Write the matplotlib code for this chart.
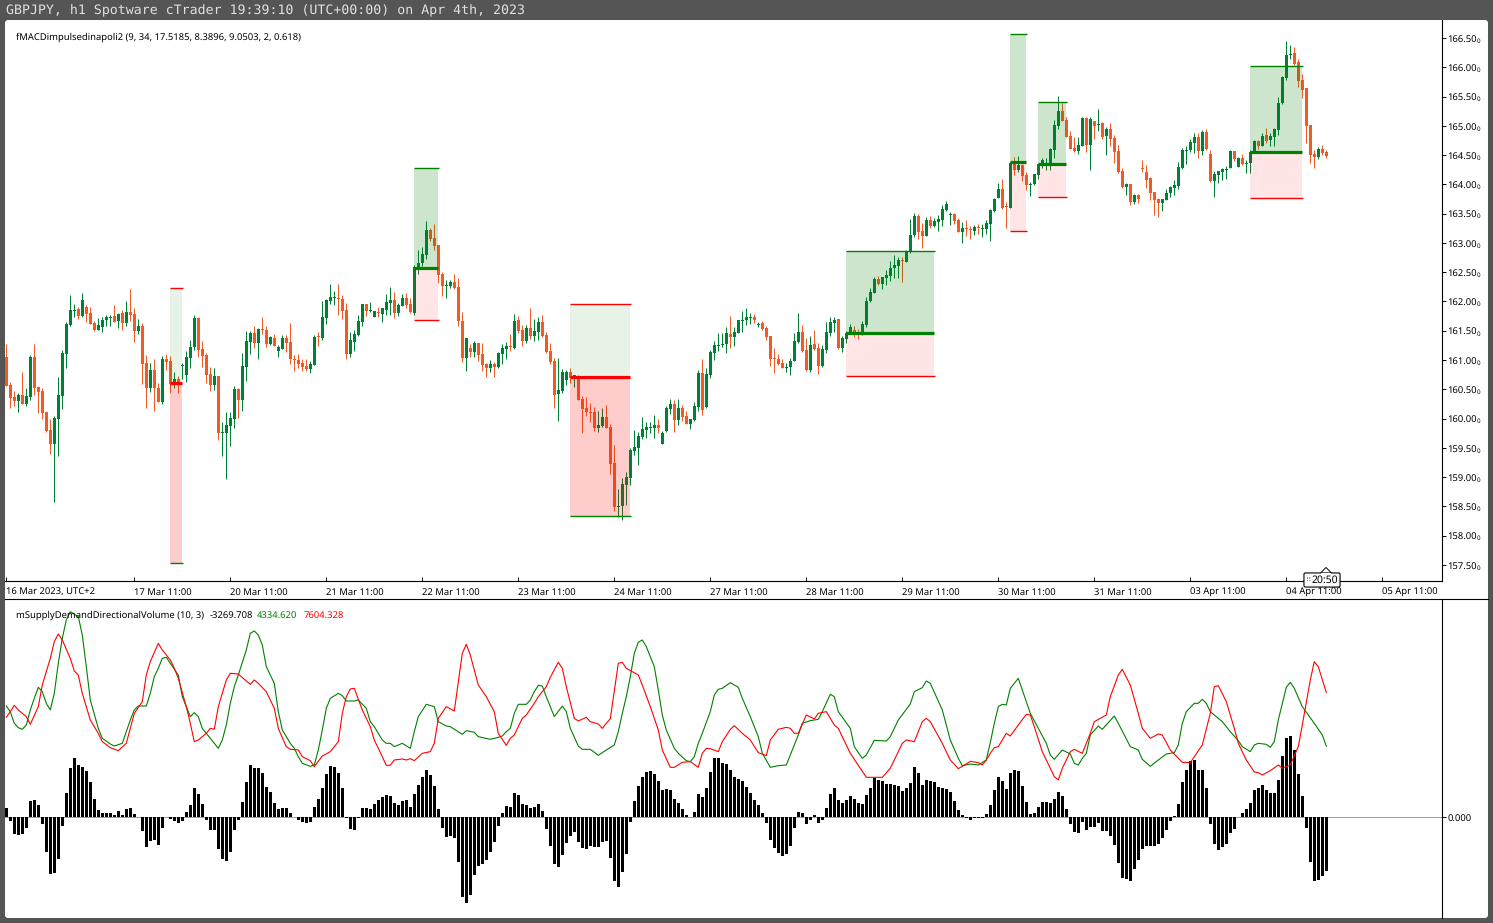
import matplotlib
matplotlib.use('Agg')
import matplotlib.pyplot as plt
import numpy as np
from matplotlib.patches import FancyBboxPatch, Polygon, Rectangle

matplotlib.rcParams['text.hinting'] = 'none'

W, H = 1493, 923

# candles, GBPJPY h1
highs = [161.27,160.63,160.47,160.44,160.80,160.52,161.09,161.27,160.56,160.52,
160.11,159.99,160.05,160.71,161.17,161.65,162.11,161.96,161.91,162.15,
161.94,161.91,161.67,161.72,161.74,161.77,161.77,161.94,161.80,161.86,
162.01,162.21,161.89,161.70,161.63,161.09,160.95,161.02,160.61,161.07,
161.10,161.07,160.80,160.73,160.95,161.16,161.34,161.77,161.74,161.33,
161.12,160.88,160.87,160.73,159.94,160.11,160.11,160.56,160.52,161.12,
161.50,161.50,161.58,161.55,161.74,161.58,161.41,161.45,161.26,161.43,
161.43,161.63,161.09,161.10,161.02,161.02,160.98,161.43,161.48,162.01,
162.04,162.30,162.18,162.30,162.11,161.97,161.48,161.51,161.77,161.96,
161.96,161.99,161.84,161.91,161.89,162.13,162.25,162.16,161.97,162.13,
162.15,162.06,162.62,162.88,162.93,163.38,163.26,163.32,162.97,162.50,
162.37,162.37,162.47,162.40,161.82,161.38,161.28,161.33,161.29,161.29,
160.95,161.00,160.97,161.14,161.28,161.31,161.45,161.79,161.75,161.60,
161.60,161.89,161.70,161.74,161.77,161.48,161.29,161.04,161.04,160.85,
160.83,160.87,160.75,160.75,160.39,160.37,160.27,160.20,160.13,160.18,
160.23,159.91,159.55,158.80,158.99,159.09,159.50,159.81,159.77,160.03,
159.94,159.94,160.06,159.99,159.79,160.22,160.34,160.32,160.34,160.23,
160.13,159.99,160.28,160.83,161.02,160.87,161.17,161.33,161.46,161.46,
161.57,161.75,161.57,161.69,161.84,161.89,161.80,161.79,161.65,161.67,
161.58,161.41,161.21,161.10,161.02,160.95,161.04,161.46,161.80,161.60,
161.38,161.41,161.51,161.29,161.26,161.65,161.74,161.74,161.70,161.41,
161.50,161.62,161.58,161.53,161.67,162.08,162.23,162.42,162.44,162.42,
162.54,162.69,162.80,162.76,162.76,162.88,163.41,163.51,163.49,163.34,
163.44,163.46,163.43,163.48,163.65,163.72,163.53,163.51,163.43,163.36,
163.39,163.29,163.31,163.32,163.32,163.39,163.58,163.76,164.02,164.09,
163.70,164.38,164.47,164.49,164.35,164.21,164.04,164.18,164.35,164.45,
164.45,164.62,165.10,165.51,165.39,165.15,164.91,164.81,164.81,165.15,
165.15,165.15,165.08,165.29,165.07,164.98,165.05,164.84,164.67,164.28,
164.02,164.01,163.84,163.84,164.42,164.33,164.13,163.87,163.77,163.75,
163.92,163.97,164.07,164.38,164.62,164.66,164.78,164.88,164.88,164.93,
164.95,164.59,164.23,164.23,164.28,164.31,164.59,164.57,164.47,164.52,
164.42,164.59,164.76,164.76,164.88,164.96,164.88,164.96,165.49,165.85,
166.45,166.38,166.35,166.14,165.89,165.65,165.01,164.59,164.64,164.67,
164.59]
body_top = [161.05,160.57,160.37,160.40,160.40,160.39,161.05,161.05,160.54,160.47,
160.11,159.81,160.01,160.40,161.12,161.62,161.86,161.86,161.87,162.03,
161.91,161.80,161.63,161.60,161.68,161.74,161.74,161.75,161.79,161.80,
161.82,161.82,161.79,161.58,161.58,160.95,160.83,160.83,160.52,161.02,
161.02,160.98,160.68,160.68,160.92,161.05,161.22,161.72,161.72,161.19,
161.09,160.76,160.73,160.73,159.77,159.89,160.01,160.51,160.51,160.90,
161.33,161.46,161.46,161.53,161.53,161.51,161.39,161.38,161.22,161.38,
161.38,161.31,161.02,161.00,160.95,160.90,160.93,161.39,161.41,161.74,
162.03,162.08,162.08,162.06,162.04,161.86,161.34,161.45,161.67,161.96,
161.96,161.86,161.84,161.82,161.89,161.99,162.03,162.03,161.94,162.06,
162.06,161.96,162.59,162.66,162.81,163.22,163.22,163.09,162.97,162.47,
162.28,162.33,162.33,162.25,161.67,161.38,161.21,161.29,161.29,161.10,
160.93,160.93,160.93,161.12,161.21,161.24,161.24,161.67,161.68,161.51,
161.55,161.55,161.50,161.65,161.65,161.43,161.16,160.98,160.49,160.80,
160.80,160.80,160.75,160.73,160.34,160.18,160.11,160.11,159.89,160.03,
160.03,159.86,159.24,158.51,158.88,159.00,159.47,159.52,159.70,159.82,
159.86,159.86,159.89,159.89,159.76,160.18,160.25,160.25,160.18,160.18,
160.05,159.99,160.22,160.78,160.78,160.76,161.14,161.26,161.26,161.28,
161.46,161.45,161.48,161.69,161.69,161.74,161.74,161.74,161.62,161.63,
161.55,161.41,161.04,161.02,160.95,160.88,160.98,161.33,161.48,161.48,
161.17,161.26,161.28,161.21,161.19,161.48,161.65,161.69,161.70,161.38,
161.46,161.57,161.51,161.45,161.62,162.01,162.16,162.39,162.39,162.42,
162.45,162.57,162.62,162.71,162.71,162.86,163.14,163.46,163.46,163.20,
163.39,163.39,163.37,163.41,163.58,163.67,163.49,163.49,163.39,163.26,
163.26,163.24,163.27,163.27,163.26,163.34,163.56,163.75,163.92,163.92,
163.63,164.37,164.35,164.33,164.33,164.16,164.01,164.18,164.35,164.42,
164.35,164.60,165.01,165.25,165.25,165.10,164.83,164.62,164.67,165.13,
165.13,165.12,165.08,165.03,165.05,164.95,164.95,164.79,164.57,164.23,
164.01,164.01,163.82,163.82,164.28,164.21,164.11,163.87,163.75,163.75,
163.85,163.95,163.99,164.30,164.59,164.59,164.72,164.81,164.81,164.89,
164.89,164.52,164.18,164.23,164.26,164.26,164.57,164.57,164.45,164.45,
164.37,164.55,164.74,164.74,164.83,164.84,164.83,164.95,165.39,165.83,
166.21,166.23,166.24,166.09,165.78,165.65,165.01,164.52,164.60,164.60,
164.55]
body_bottom = [160.56,160.35,160.30,160.30,160.25,160.25,160.37,160.52,160.45,160.10,
159.79,159.57,159.57,159.99,160.39,161.10,161.60,161.84,161.75,161.75,
161.79,161.62,161.51,161.51,161.57,161.68,161.72,161.65,161.67,161.63,
161.63,161.77,161.50,161.50,160.93,160.52,160.52,160.52,160.28,160.28,
160.97,160.59,160.59,160.57,160.90,160.75,161.04,161.22,161.17,161.07,
160.75,160.57,160.57,159.76,159.76,159.76,159.87,159.99,160.32,160.32,
160.88,161.31,161.29,161.29,161.51,161.27,161.27,161.24,161.16,161.19,
161.29,161.02,161.00,160.93,160.88,160.85,160.85,160.92,161.39,161.38,
161.72,162.01,162.06,162.04,161.84,161.10,161.10,161.31,161.43,161.65,
161.84,161.84,161.74,161.80,161.79,161.86,161.97,161.80,161.80,161.92,
161.94,161.82,161.80,162.56,162.66,162.80,163.07,162.95,162.45,162.27,
162.27,162.27,162.23,161.67,161.04,161.04,161.14,161.14,161.09,160.92,
160.87,160.87,160.88,160.88,161.10,161.19,161.22,161.21,161.50,161.33,
161.33,161.41,161.41,161.48,161.41,161.14,160.97,160.40,160.42,160.47,
160.66,160.69,160.69,160.32,160.17,160.11,160.10,159.84,159.84,159.87,
159.84,159.23,158.49,158.49,158.51,158.87,158.99,159.45,159.50,159.69,
159.81,159.84,159.84,159.84,159.57,159.79,160.17,159.98,159.98,160.03,
159.91,159.91,159.98,160.20,160.15,160.20,160.75,161.12,161.24,161.26,
161.28,161.39,161.39,161.46,161.67,161.69,161.72,161.69,161.60,161.53,
161.39,161.02,161.02,160.93,160.87,160.87,160.88,160.98,161.31,161.16,
160.83,160.83,161.19,160.90,160.90,161.17,161.46,161.63,161.21,161.21,
161.36,161.45,161.43,161.43,161.43,161.60,162.01,162.15,162.30,162.30,
162.40,162.44,162.57,162.61,162.69,162.68,162.85,163.14,163.19,163.12,
163.12,163.29,163.29,163.36,163.39,163.56,163.48,163.37,163.19,163.19,
163.24,163.22,163.20,163.26,163.24,163.24,163.32,163.55,163.77,163.60,
163.61,163.60,164.25,164.25,164.14,163.99,163.99,164.01,164.16,164.33,
164.33,164.35,164.59,165.00,165.08,164.81,164.60,164.57,164.57,164.66,
164.67,164.67,165.00,165.01,164.81,164.83,164.78,164.55,164.21,163.96,
163.96,163.70,163.70,163.75,164.26,164.07,163.85,163.73,163.68,163.68,
163.73,163.85,163.94,163.97,164.28,164.57,164.59,164.71,164.57,164.57,
164.60,164.06,164.06,164.16,164.21,164.25,164.28,164.43,164.30,164.35,
164.35,164.37,164.55,164.66,164.66,164.74,164.76,164.81,164.93,165.39,
165.82,166.21,166.06,165.77,165.61,165.00,164.50,164.47,164.47,164.54,
164.48]
lows = [160.55,160.18,160.22,160.11,160.25,160.22,160.32,160.40,160.10,159.99,
159.77,159.40,158.57,159.36,160.16,160.87,161.58,161.74,161.70,161.74,
161.65,161.62,161.50,161.51,161.48,161.58,161.58,161.65,161.55,161.51,
161.58,161.67,161.31,161.45,160.59,160.18,160.45,160.13,160.28,160.25,
160.83,160.44,160.52,160.44,160.68,160.63,160.87,161.17,161.05,160.88,
160.61,160.47,160.49,159.64,159.36,158.97,159.53,159.84,160.01,160.13,
160.64,161.10,161.21,161.02,161.45,161.22,161.26,161.24,161.05,161.19,
161.14,160.93,160.81,160.87,160.81,160.81,160.78,160.92,161.24,161.34,
161.62,161.96,161.94,161.77,161.70,161.02,161.05,161.16,161.41,161.58,
161.75,161.82,161.74,161.74,161.65,161.77,161.77,161.72,161.75,161.92,
161.89,161.80,161.77,162.47,162.61,162.73,163.03,162.88,162.32,162.09,
162.06,162.23,162.21,161.58,160.97,160.81,161.05,161.05,160.98,160.81,
160.71,160.80,160.71,160.87,160.93,161.02,161.16,161.19,161.46,161.24,
161.29,161.36,161.33,161.34,161.39,161.12,160.93,160.18,159.96,160.44,
160.57,160.61,160.54,160.32,159.76,160.05,159.94,159.79,159.77,159.86,
159.84,159.05,158.42,158.32,158.27,158.53,158.87,159.38,159.21,159.65,
159.67,159.76,159.67,159.76,159.57,159.77,160.08,159.77,159.89,159.96,
159.91,159.82,159.96,160.13,160.06,160.18,160.69,161.00,161.16,161.22,
161.12,161.21,161.24,161.46,161.48,161.60,161.62,161.63,161.57,161.51,
161.34,160.90,160.78,160.92,160.87,160.80,160.75,160.98,161.29,161.14,
160.81,160.80,161.17,160.76,160.88,161.12,161.41,161.48,161.19,161.14,
161.29,161.45,161.39,161.36,161.43,161.57,161.99,162.15,162.28,162.21,
162.28,162.35,162.40,162.40,162.33,162.68,162.83,163.10,163.07,162.91,
163.12,163.26,163.27,163.20,163.29,163.55,163.31,163.32,163.19,163.00,
163.12,163.07,163.14,163.15,163.10,163.15,163.03,163.53,163.77,163.58,
163.26,163.60,164.16,164.21,164.06,163.90,163.80,163.99,164.09,164.28,
164.25,164.25,164.45,164.95,165.08,164.81,164.60,164.55,164.52,164.66,
164.55,164.25,164.78,164.91,164.78,164.50,164.66,164.37,164.19,163.94,
163.82,163.65,163.66,163.68,164.21,163.94,163.73,163.48,163.44,163.55,
163.73,163.79,163.82,163.92,164.26,164.35,164.55,164.54,164.45,164.50,
164.59,164.04,163.79,164.02,164.07,164.09,164.28,164.40,164.30,164.33,
164.19,164.19,164.54,164.60,164.66,164.71,164.66,164.66,164.84,165.37,
165.78,166.14,166.04,165.66,165.48,164.71,164.37,164.28,164.43,164.50,
164.45]
directions = ("RRRGRGGRRR" "RRGGGGGGRG" "RRRGGGGRGR" "GRRGRRGRRG" "RRGRGGGGRR"
              "RRGRGGGGRG" "GGRGRRGRGG" "RRRRRRGGRG" "GGGRRRGGGG" "RGGRGGGRGG"
              "RRGGGGRRRR" "GGRRRGRGRR" "RGRGGGRGRR" "GRGGRRRRGG" "GRGRRRRRGG"
              "RRRGGGGGGG" "GGGRGGGRGR" "RGGGRGGGGG" "GRGGGGGRGR" "RRRRRGGGGR"
              "RGRRGGGGRG" "GGRRGGGGRG" "GGGGRGGGRR" "GRGGGGGRRG" "RRGRGGGGGR"
              "RGRGRRGGGG" "GGGGRRRRGG" "RGRGRGRRRR" "GRGRRRRRRG" "GGGGGGGGRG"
              "RRGGGGGRGR" "GGGRGRGGGG" "GGRRRRRRGR" "R")

# lower pane, one value per bar
hist = [568,-203,-1015,-1056,-1015,-650,1015,1056,751,-406,-2111,-3451,-3390,-2538,-528,1482,3004,3613,3187,3045,
2822,2152,1117,447,264,264,264,142,386,142,508,568,183,20,-832,-1807,-1441,-1380,-1685,-650,
41,-81,-223,-345,-223,325,751,1786,1421,812,-162,-751,-771,-1929,-2538,-2659,-2111,-771,-162,934,
2152,3187,3004,3004,2700,1847,1543,873,508,568,568,264,20,-162,-284,-325,-284,629,1117,1786,
2639,3126,3065,2700,1786,-41,-731,-771,-41,568,568,508,812,1056,1238,1360,1299,873,751,995,
1056,629,1421,1969,2456,2883,2578,1908,508,-650,-1198,-1137,-1259,-2720,-4852,-5217,-4730,-3512,-2964,-2822,
-2598,-2111,-1502,-528,264,690,629,1482,1360,812,751,568,629,812,386,-711,-1746,-2842,-3025,-2294,
-1563,-1137,-893,-1502,-1868,-1929,-1746,-1807,-1807,-1502,-1441,-2477,-3877,-4243,-3329,-2233,-284,995,1908,2456,
2761,2822,2639,2213,1685,1726,1665,1117,873,508,142,20,325,1421,1238,1786,2761,3613,3613,3309,
3248,2883,2456,2335,2213,1847,1482,1056,751,264,-345,-1380,-1868,-2172,-2355,-2233,-1746,-650,325,264,
-406,-162,142,-345,-162,568,1421,1786,1056,873,1056,1299,1117,873,812,1360,1786,2395,2274,2213,
2030,2030,1969,1908,1604,1786,2091,3065,2700,1969,2274,2213,2172,1847,1786,1726,1543,995,447,142,
-61,-142,-61,-61,-61,183,731,1665,2456,2213,1726,2700,2883,2822,1908,934,203,264,629,934,
934,873,1117,1543,1299,508,-406,-893,-954,-284,-771,-568,-568,-345,-832,-832,-1137,-1685,-2781,-3695,
-3756,-3877,-3147,-2598,-1929,-1746,-1746,-1746,-1624,-1259,-771,-223,81,812,2152,2883,3431,3492,2883,2883,
1786,-406,-1624,-1989,-1807,-1624,-954,-711,0,264,508,873,1665,1786,1969,1665,1482,1482,2274,3735,
4831,4953,4101,2639,1299,-650,-2720,-3877,-3816,-3553,-3270]

green_bars = [0,1,2,3,4,5,6,7,8,9,10,11,12,13,14,15,16,18,19,20,21,23,24,26,27,29,30,31,32,33,35,36,37,38,39,40,41,43,44,45,46,47,48,49,51,52,53,54,55,56,57,58,60,61,62,63,64,65,67,68,69,71,72,73,74,76,77,78,79,80,81,83,84,85,87,88,90,91,92,94,95,96,97,99,101,102,103,105,107,108,110,111,114,115,117,118,121,122,123,
124,125,126,127,128,130,131,132,133,134,135,137,139,140,141,143,144,146,148,150,152,153,154,155,156,157,158,159,160,162,163,164,165,167,168,170,171,172,173,174,176,177,178,179,181,183,184,186,188,189,191,193,195,196,198,199,201,203,204,206,207,208,211,212,214,215,217,220,221,223,226,227,229,230,231,234,236,238,239,241,243,245,246,
247,248,249,250,251,253,254,256,258,260,261,262,264,266,267,268,269,270,271,273,274,277,278,281,283,284,286,288,290,292,293,294,295,297,298,299,300,301,304,306,308,309,311,312,313,315,316,317,318,320,321,322,324,327,329,330]
green_line = [6780,6435,5725,5461,5359,5623,6537,7247,7917,7653,6943,6537,7552,9379,10901,12018,12525,12221,11104,9176,7146,5420,4811,4466,4344,4507,5217,5928,6537,6780,6780,7552,8567,9074,9683,9744,9379,8668,7349,6740,6131,6374,6131,5420,4811,4507,4202,4710,5623,6943,7958,8668,10191,11206,11348,11104,10495,9176,8161,6435,5319,4507,4202,3695,3289,3106,3187,4101,5319,6638,7247,7552,7410,7085,7085,7146,6638,5826,5522,4710,4507,4507,4304,4507,4202,5217,6131,6882,6740,5826,5562,5522,5055,5278,5177,4913,4750,4811,4872,
4953,5217,5420,6334,6882,6882,7146,7653,8039,7998,7349,6131,6780,6435,5420,4344,4141,4141,3776,4101,4405,5217,6334,7349,8567,9988,10658,10800,10394,9176,7755,6232,5319,4202,3898,3451,3390,3695,4507,5116,6435,7450,7795,7856,8201,7917,7247,6131,4913,3898,3045,3147,3187,3796,5014,5725,5887,5968,6435,7491,7349,6435,5420,4304,3593,3796,4689,4649,4913,5928,6902,7653,7897,8303,8161,6537,4710,3593,3147,3248,3187,3492,4547,
5725,6740,6882,6841,7856,8465,7755,6334,5420,4507,3796,3532,4101,3857,3289,3187,3593,3898,5014,5562,5359,6171,5725,4304,4101,3532,3106,3492,3857,3938,4405,5725,6435,6943,6943,7186,6943,6435,5826,5217,4669,4304,3999,4405,4507,4446,4263,4608,5928,7917,8222,7856,6740,5725,5014,4335]

red_bars = [0,1,2,3,5,6,8,9,11,12,13,14,16,17,18,19,21,23,24,26,28,30,31,32,34,35,36,38,39,41,42,43,45,46,47,48,50,51,52,53,55,56,58,60,61,62,63,65,67,68,70,71,73,74,76,77,79,81,83,84,85,86,87,89,91,92,94,95,96,97,99,100,101,102,104,106,107,108,110,112,114,115,116,118,120,122,123,
125,126,127,129,130,132,133,135,136,138,139,140,142,143,145,146,148,149,150,151,153,154,155,158,159,161,163,164,166,167,169,171,173,174,175,176,178,179,181,182,184,186,188,190,191,193,195,196,197,198,200,202,203,205,207,208,211,215,219,221,224,225,227,229,230,231,234,236,238,240,241,243,244,245,246,
247,248,250,251,253,255,256,257,259,262,263,264,266,267,269,271,272,275,276,278,279,281,283,284,286,288,289,291,294,296,299,301,302,303,305,307,308,310,312,313,314,316,318,319,321,323,324,326,327,328,330]
red_line = [6090,6435,6821,6537,6131,5664,6740,8059,9683,10698,11165,10800,9683,8912,8668,7552,5928,5116,4608,4243,4060,4507,5420,6334,7044,8668,9480,10597,10191,9582,9074,8465,6740,5725,4608,4710,5116,5420,5359,6740,8364,8770,8729,8303,8100,8364,8161,7653,6638,5420,4304,4141,4101,3695,3451,3086,3735,3999,4608,6334,7349,7816,7856,6537,5522,4710,3695,3167,3167,3492,3553,3492,3573,3451,3898,3999,4507,6029,6740,6476,9988,10536,9886,8059,7349,6435,5116,
4385,4811,5014,6029,6232,6943,7349,7958,8526,9440,9074,7958,6029,5867,6090,5826,5684,5420,5725,6000,9379,9440,9074,8668,8059,6740,5319,4101,3045,3045,3350,3390,3045,3898,4202,4182,3999,4608,5359,5583,5116,4710,3938,3756,4710,5359,5481,5420,5116,5116,6232,5989,6334,6435,5623,5420,3898,2436,2436,2984,4507,4710,4608,5826,6029,5826,4507,3492,2964,3248,3410,3329,3187,3492,3898,
4243,4304,5116,4953,5623,6273,6232,5522,3999,2477,2274,2984,3999,4141,3898,5116,5826,6232,7349,8668,9013,8059,6334,5420,4811,5075,5014,4101,3350,3329,4405,6334,7958,8019,7044,5420,4507,3492,2761,2720,2578,2842,3187,2984,3187,4304,5623,8364,9480,9176,7604]

# trade boxes: first bar, last bar, top, middle, bottom
box_start = [41, 102, 141, 210, 251, 258, 311]
box_end = [44, 108, 156, 232, 255, 265, 324]
box_top = [162.23, 164.28, 161.95, 162.87, 166.56, 165.40, 166.03]
box_mid = [160.60, 162.58, 160.71, 161.47, 164.38, 164.34, 164.55]
box_bottom = [157.53, 161.68, 158.33, 160.72, 163.20, 163.78, 163.76]
box_sell = [True, False, True, False, False, False, False]

price_ticks = [157.5 + 0.5*i for i in range(19)]
date_bars = [0] + [32 + 24*i for i in range(14)]
date_labels = ['16 Mar 2023, UTC+2', '17 Mar 11:00', '20 Mar 11:00', '21 Mar 11:00', '22 Mar 11:00',
               '23 Mar 11:00', '24 Mar 11:00', '27 Mar 11:00', '28 Mar 11:00', '29 Mar 11:00',
               '30 Mar 11:00', '31 Mar 11:00', '03 Apr 11:00', '04 Apr 11:00', '05 Apr 11:00']

UP = '#008037'
DOWN = '#f15a24'
FONT = 'Noto Sans'
TS = 6.8

def fx(px):
    return px / W

def fy(py):
    return 1 - py / H

def axes_px(left, top, right, bottom):
    return fig.add_axes([fx(left), fy(bottom), fx(right - left), (bottom - top) / H])

fig = plt.figure(figsize=(W / 100, H / 100), dpi=100, facecolor='#555555')
fig.add_artist(FancyBboxPatch((fx(8), fy(915)), fx(1477), 892 / H, boxstyle='round,pad=0.002,rounding_size=0.002',
                              transform=fig.transFigure, fc='white', ec='none', mutation_aspect=W / H, zorder=-1))

bars = np.arange(len(highs))
is_up = np.array([d == 'G' for d in directions])
top = np.array(body_top)
bot = np.array(body_bottom)

ax = axes_px(5, 20, 1442, 581)
ax.patch.set_alpha(0)
ax.set_xlim(-0.325, 358.925)
ax.set_ylim(157.227, 166.807)
colors = [UP if u else DOWN for u in is_up]
ax.vlines(bars, lows, highs, colors=colors, lw=0.72, zorder=2)
ax.bar(bars, np.maximum(top - bot, 0.017), bottom=bot, width=0.75, color=colors, lw=0, zorder=3, antialiased=False)

for i in range(len(box_start)):
    x0, x1 = box_start[i], box_end[i]
    up_alpha, down_alpha = (0.09, 0.2) if box_sell[i] else (0.2, 0.1)
    ax.fill_between([x0, x1], box_mid[i], box_top[i], color='#008000', alpha=up_alpha, lw=0, zorder=4)
    ax.fill_between([x0, x1], box_bottom[i], box_mid[i], color='#ff0000', alpha=down_alpha, lw=0, zorder=4)
    main = '#ff0000' if box_sell[i] else '#008000'
    other = '#008000' if box_sell[i] else '#ff0000'
    ax.hlines(box_mid[i], x0, x1, color=main, lw=2.3, zorder=5)
    ax.hlines(box_top[i], x0, x1 + 0.2, color='#ff0000' if box_sell[i] else '#008000', lw=1.0, zorder=5)
    ax.hlines(box_bottom[i], x0, x1 + 0.2, color=other, lw=1.0, zorder=5)

ax.spines[['top', 'left']].set_visible(False)
ax.yaxis.tick_right()
ax.set_yticks(price_ticks, ['%.2f' % p for p in price_ticks], fontsize=TS, family=FONT)
ax.tick_params(axis='y', length=3, width=0.7, pad=1)
ax.set_xticks(date_bars, date_labels, fontsize=TS, family=FONT, ha='left')
ax.tick_params(axis='x', direction='in', length=3, width=0.7, pad=5)
for p in price_ticks:
    ax.annotate('0', xy=(1, p), xycoords=ax.get_yaxis_transform(), xytext=(25, -2.2), textcoords='offset points',
                fontsize=4.5, family=FONT, va='center', ha='left')
ax.text(fx(16 - 5) * W / 1437, 1 - 17.5 / 561, 'fMACDimpulsedinapoli2 (9, 34, 17.5185, 8.3896, 9.0503, 2, 0.618)',
        transform=ax.transAxes, fontsize=TS, family=FONT, va='center')

ax2 = axes_px(5, 599, 1442, 918)
ax2.patch.set_alpha(0)
ax2.set_xlim(-0.325, 358.925)
ax2.set_ylim(-6131, 13296)
ax2.axhline(0, color='#5ab4d6', lw=0.7, zorder=1)
ax2.bar(bars, hist, width=0.75, color='black', lw=0, zorder=2, antialiased=False)
ax2.plot(green_bars, green_line, color='#008000', lw=0.8, zorder=3)
ax2.plot(red_bars, red_line, color='#ff0000', lw=0.8, zorder=3)
ax2.spines[['top', 'left', 'bottom']].set_visible(False)
ax2.set_xticks([])
ax2.yaxis.tick_right()
ax2.set_yticks([0], ['0.000'], fontsize=TS, family=FONT)
ax2.tick_params(axis='y', length=3, width=0.7, pad=1)

fig.add_artist(plt.Line2D([fx(5), fx(1488)], [fy(598.5), fy(598.5)], color='black', lw=0.8))

# header texts
fig.text(fx(6), fy(10.5), 'GBPJPY, h1 Spotware cTrader 19:39:10 (UTC+00:00) on Apr 4th, 2023',
         family='DejaVu Sans Mono', fontsize=9.55, color='#e0e0e0', va='center')
parts = [(16, 'mSupplyDemandDirectionalVolume (10, 3)', 'black'), (210, '-3269.708', 'black'),
         (257, '4334.620', '#008000'), (304, '7604.328', '#ff0000')]
for x, s, c in parts:
    fig.text(fx(x), fy(615.5), s, family=FONT, fontsize=TS, color=c, va='center')

# current-time tag on the axis
fig.add_artist(Polygon([(fx(1320), fy(573.5)), (fx(1326), fy(567.5)), (fx(1332), fy(573.5))], closed=False,
                       transform=fig.transFigure, fc='white', ec='black', lw=0.7, zorder=6))
fig.add_artist(FancyBboxPatch((fx(1305), fy(586)), fx(34), 12 / H, boxstyle='round,pad=0.0007,rounding_size=0.001',
                              transform=fig.transFigure, fc='white', ec='black', lw=0.8, zorder=7,
                              mutation_aspect=W / H))
fig.add_artist(Rectangle((fx(1321), fy(574.5)), fx(10), 1.5 / H, transform=fig.transFigure, fc='white', ec='none', zorder=8))
fig.text(fx(1306), fy(580), '⠿', family='DejaVu Sans', fontsize=5, color='#888888', va='center', zorder=9)
fig.text(fx(1312), fy(580), '20:50', family=FONT, fontsize=7.5, color='black', va='center', zorder=9)

fig.savefig('out.png', dpi=100, facecolor=fig.get_facecolor())
